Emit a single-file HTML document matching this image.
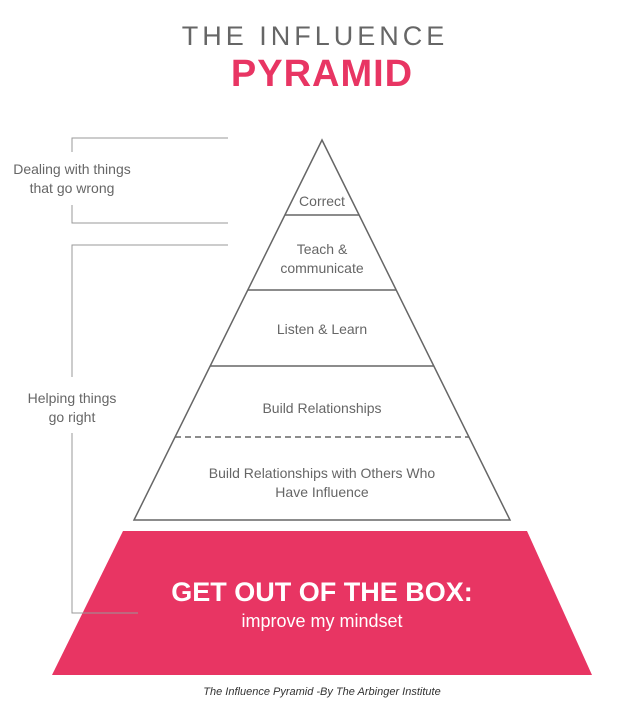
<!DOCTYPE html>
<html><head><style>
body{margin:0;width:644px;height:705px;background:#fff;overflow:hidden}
svg{display:block}
text{font-family:"Liberation Sans",sans-serif}
</style></head><body>
<svg width="644" height="705" viewBox="0 0 644 705">
<text x="315" y="45" text-anchor="middle" font-size="27" fill="#666" letter-spacing="4">THE INFLUENCE</text>
<text x="322" y="86" text-anchor="middle" font-size="38" font-weight="bold" fill="#e83563" letter-spacing="1">PYRAMID</text>
<path d="M123 531H527L592 675H52Z" fill="#e83563"/>
<g stroke="#999" stroke-width="1" fill="none">
<path d="M228 138H72V152M72 205V223H228"/>
<path d="M228 245H72V377M72 433V613H138"/>
</g>
<g stroke="#666" stroke-width="1.5" fill="none">
<path d="M322 140L134 520H510Z"/>
<line x1="285" y1="215" x2="359" y2="215"/>
<line x1="248" y1="290" x2="396" y2="290"/>
<line x1="210" y1="366" x2="434" y2="366"/>
<line x1="175" y1="437" x2="469" y2="437" stroke-dasharray="6,4"/>
</g>
<g font-size="14" fill="#666" text-anchor="middle">
<text x="72" y="174">Dealing with things</text>
<text x="72" y="193">that go wrong</text>
<text x="72" y="403">Helping things</text>
<text x="72" y="422">go right</text>
<text x="322" y="206">Correct</text>
<text x="322" y="254">Teach &amp;</text>
<text x="322" y="273">communicate</text>
<text x="322" y="334">Listen &amp; Learn</text>
<text x="322" y="413">Build Relationships</text>
<text x="322" y="478">Build Relationships with Others Who</text>
<text x="322" y="497">Have Influence</text>
</g>
<text x="322" y="601" text-anchor="middle" font-size="27" font-weight="bold" fill="#fff">GET OUT OF THE BOX:</text>
<text x="322" y="627" text-anchor="middle" font-size="18" fill="#fff">improve my mindset</text>
<text x="322" y="695" text-anchor="middle" font-size="11" font-style="italic" fill="#333">The Influence Pyramid -By The Arbinger Institute</text>
</svg>
</body></html>
